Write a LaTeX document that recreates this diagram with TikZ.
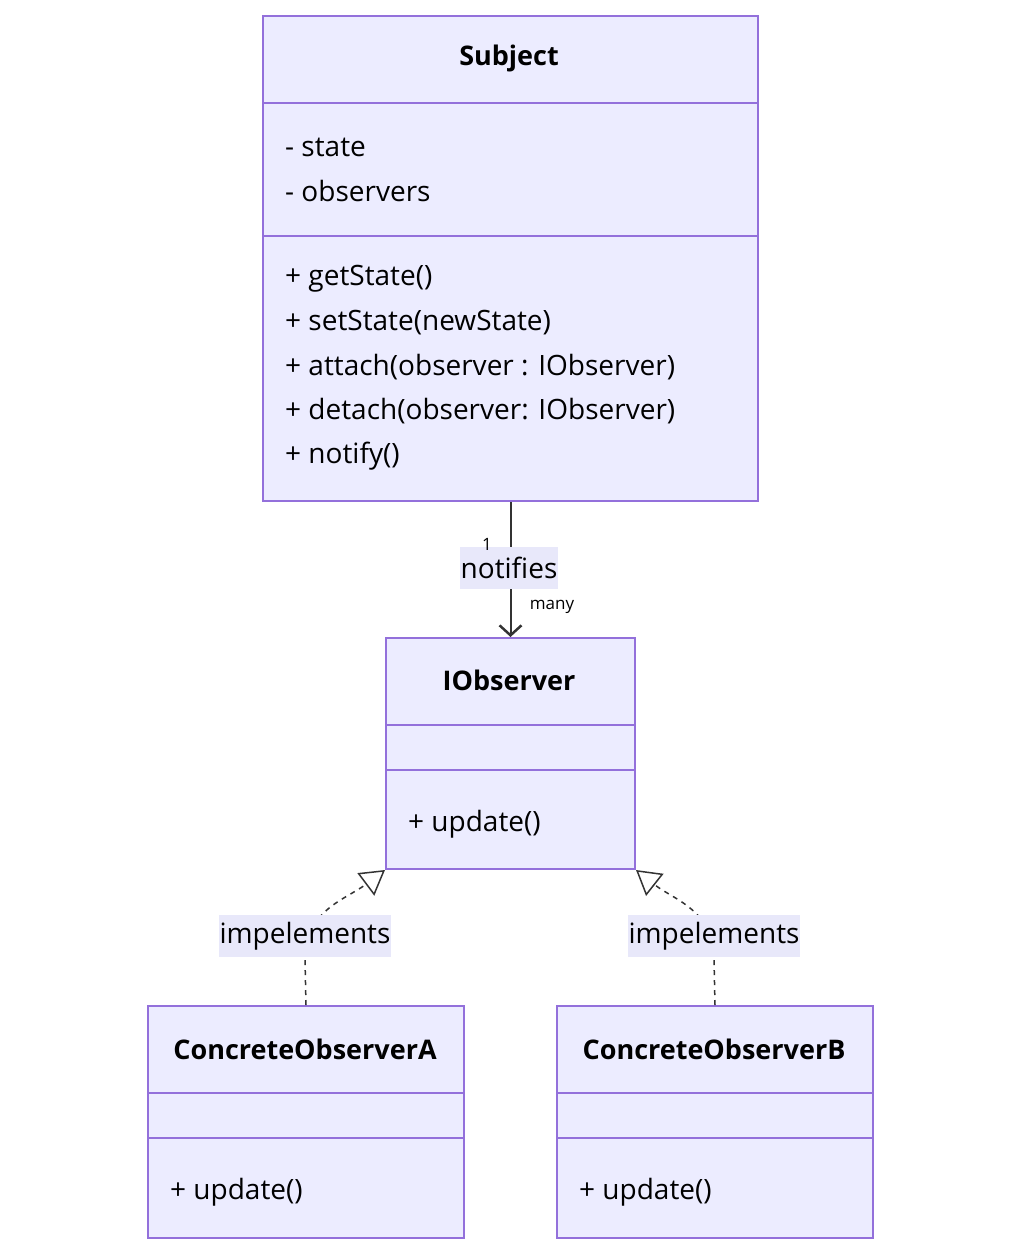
\documentclass[tikz,border=0pt]{standalone}
\usepackage{fontspec}
\setmainfont{Open Sans}
\usetikzlibrary{arrows.meta}
\definecolor{boxfill}{HTML}{ECECFF}
\definecolor{boxline}{HTML}{9370DB}
\definecolor{lblbg}{HTML}{E8E8FA}
\definecolor{ink}{HTML}{333333}
\begin{document}
\begin{tikzpicture}[x=1pt,y=-1pt,
  box/.style={draw=boxline,fill=boxfill,line width=2pt,anchor=north west,inner sep=0pt},
  title/.style={font=\fontsize{27}{30}\selectfont\bfseries,text=black,inner sep=0pt},
  mem/.style={font=\fontsize{28}{32}\selectfont,text=black,anchor=west,inner sep=0pt},
  lbl/.style={fill=lblbg,font=\fontsize{28}{32}\selectfont,text=black,inner sep=1pt,minimum height=42pt},
  small/.style={font=\fontsize{17}{20}\selectfont,text=black,inner sep=0pt},
  div/.style={draw=boxline,line width=2pt},
  conn/.style={draw=ink,line width=2pt}]
\useasboundingbox (0,0) rectangle (1018,1252);
% Subject
\node[box,minimum width=495pt,minimum height=485pt] (S) at (262,15) {};
\draw[div] (262,103) -- (757,103) (262,236) -- (757,236);
\node[title] (St) at (509,58) {Subject};
\node[mem] (S1) at (285,147) {- state};
\node[mem] (S2) at (285,191) {- observers};
\node[mem] (S3) at (285,279) {+ getState()};
\node[mem] (S4) at (285,323) {+ setState(newState)};
\node[mem] (S5) at (285,367) {+ attach(observer : IObserver)};
\node[mem] (S6) at (285,411) {+ detach(observer: IObserver)};
\node[mem] (S7) at (285,456) {+ notify()};
% IObserver
\node[box,minimum width=249pt,minimum height=231pt] (I) at (385,637) {};
\draw[div] (385,725) -- (634,725) (385,770) -- (634,770);
\node[title] (It) at (509,680) {IObserver};
\node[mem] (I1) at (408,824) {+ update()};
% A
\node[box,minimum width=316pt,minimum height=232pt] (A) at (147,1005) {};
\draw[div] (147,1093) -- (463,1093) (147,1138) -- (463,1138);
\node[title] (At) at (305,1049) {ConcreteObserverA};
\node[mem] (A1) at (170,1192) {+ update()};
% B
\node[box,minimum width=316pt,minimum height=232pt] (B) at (556,1005) {};
\draw[div] (556,1093) -- (872,1093) (556,1138) -- (872,1138);
\node[title] (Bt) at (714,1049) {ConcreteObserverB};
\node[mem] (B1) at (579,1192) {+ update()};
% connectors
\draw[conn,-{Straight Barb[length=10pt,width=22pt,line width=2.5pt]}] (S.south) -- (I.north);
\node[lbl] (n) at (509,568) {notifies};
\node[small] (one) at (487,544) {1};
\node[small] (many) at (552,607) {many};
\coordinate (a0) at (305,960);
\coordinate (b0) at (714,960);
\draw[conn,line width=1.5pt,dash pattern=on 5pt off 5pt,-{Triangle[open,length=24pt,width=28pt,line width=1.5pt]}]
  (A.north) -- (a0) .. controls (305,910) and (345,900) .. (I.south west);
\draw[conn,line width=1.5pt,dash pattern=on 5pt off 5pt,-{Triangle[open,length=24pt,width=28pt,line width=1.5pt]}]
  (B.north) -- (b0) .. controls (714,910) and (674,900) .. (I.south east);
\node[lbl] (la) at (305,936) {impelements};
\node[lbl] (lb) at (714,936) {impelements};
\end{tikzpicture}
\end{document}
